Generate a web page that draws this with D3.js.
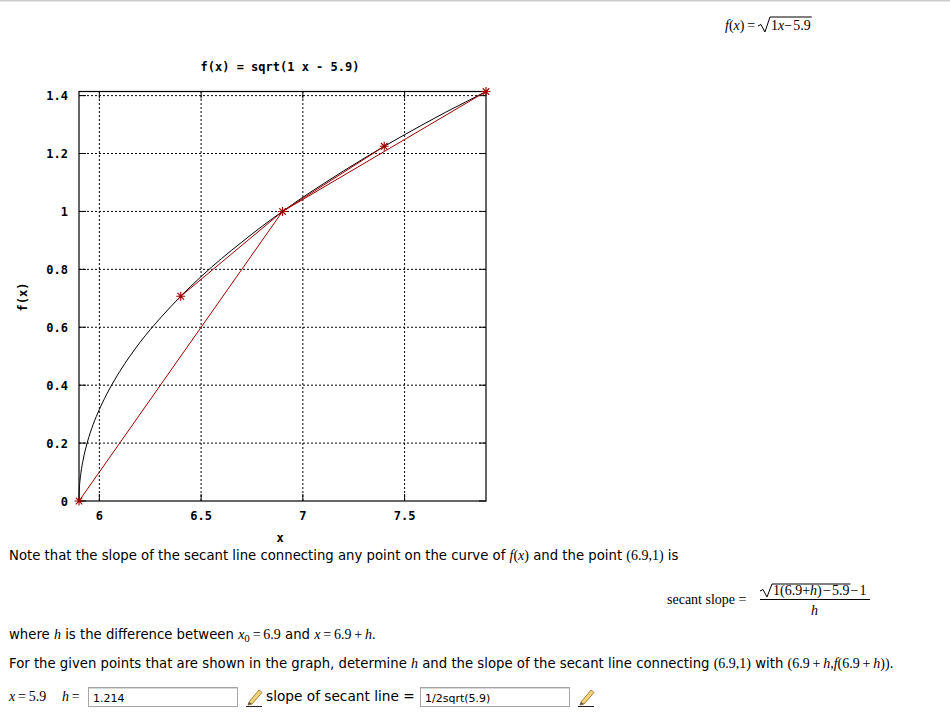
<!DOCTYPE html>
<html>
<head>
<meta charset="utf-8">
<script src="https://cdn.jsdelivr.net/npm/d3@7"></script>
<style>
  body { margin: 0; background: #fff; }
  svg text { white-space: pre; }
</style>
</head>
<body>
<svg id="page" width="950" height="714"></svg>
<script>

  // chart values
  var xTicks = [6, 6.5, 7, 7.5];
  var yTicks = [0, 0.2, 0.4, 0.6, 0.8, 1, 1.2, 1.4];
  var yTickLabels = ['0', '0.2', '0.4', '0.6', '0.8', '1', '1.2', '1.4'];
  var xTickLabels = ['6', '6.5', '7', '7.5'];
  var pointX = [5.9, 6.4, 6.9, 7.4, 7.9];
  var pointY = [0, 0.707, 1, 1.225, 1.414];
  var baseX = 6.9, baseY = 1;
  var curveX = [5.9, 5.901, 5.905, 5.91, 5.92, 5.94, 5.97, 6.0, 6.05, 6.1, 6.2, 6.3, 6.4, 6.5,
                6.6, 6.7, 6.8, 6.9, 7.0, 7.1, 7.2, 7.3, 7.4, 7.5, 7.6, 7.7, 7.8, 7.9];
  var curveY = [0, 0.032, 0.071, 0.1, 0.141, 0.2, 0.265, 0.316, 0.387, 0.447, 0.548, 0.632, 0.707, 0.775,
                0.837, 0.894, 0.949, 1, 1.049, 1.095, 1.14, 1.183, 1.225, 1.265, 1.304, 1.342, 1.378, 1.414];

  var mono = '"DejaVu Sans Mono", monospace';
  var sans = '"DejaVu Sans", Verdana, sans-serif';
  var serif = '"Liberation Serif", "Times New Roman", serif';
  var red = '#a00000';

  var svg = d3.select('#page');

  // thin grey rule at the very top
  svg.append('line')
    .attr('x1', 0).attr('x2', 950).attr('y1', 0.5).attr('y2', 0.5)
    .attr('stroke', '#cccccc').attr('stroke-width', 2);

  var x = d3.scaleLinear().domain([5.9, 7.9]).range([79, 486]);
  var y = d3.scaleLinear().domain([0, Math.SQRT2]).range([501, 91.5]);

  var plot = svg.append('g');

  // grid
  plot.selectAll('line.gx').data(xTicks).enter()
    .append('line')
      .attr('x1', function (d) { return x(d); })
      .attr('x2', function (d) { return x(d); })
      .attr('y1', y.range()[0]).attr('y2', y.range()[1])
      .attr('stroke', '#000').attr('stroke-dasharray', '2,2');

  plot.selectAll('line.gy').data(yTicks.slice(1)).enter()
    .append('line')
      .attr('x1', x.range()[0]).attr('x2', x.range()[1])
      .attr('y1', function (d) { return y(d); })
      .attr('y2', function (d) { return y(d); })
      .attr('stroke', '#000').attr('stroke-dasharray', '2,2');

  // tick marks, mirrored on all four sides
  var tl = 7;
  yTicks.forEach(function (d) {
    plot.append('line').attr('x1', x.range()[0]).attr('x2', x.range()[0] + tl)
      .attr('y1', y(d)).attr('y2', y(d)).attr('stroke', '#000');
    plot.append('line').attr('x1', x.range()[1]).attr('x2', x.range()[1] - tl)
      .attr('y1', y(d)).attr('y2', y(d)).attr('stroke', '#000');
  });
  xTicks.forEach(function (d) {
    plot.append('line').attr('x1', x(d)).attr('x2', x(d))
      .attr('y1', y.range()[0]).attr('y2', y.range()[0] - tl).attr('stroke', '#000');
    plot.append('line').attr('x1', x(d)).attr('x2', x(d))
      .attr('y1', y.range()[1]).attr('y2', y.range()[1] + tl).attr('stroke', '#000');
  });

  // frame
  plot.append('rect')
    .attr('x', x.range()[0]).attr('y', y.range()[1])
    .attr('width', x.range()[1] - x.range()[0])
    .attr('height', y.range()[0] - y.range()[1])
    .attr('fill', 'none').attr('stroke', '#000').attr('stroke-width', 1.2);

  // tick labels
  plot.selectAll('text.yl').data(yTicks).enter()
    .append('text')
      .attr('x', 68).attr('y', function (d) { return y(d) + 4.5; })
      .attr('text-anchor', 'end')
      .style('font', 'bold 12px ' + mono)
      .text(function (d, i) { return yTickLabels[i]; });

  plot.selectAll('text.xl').data(xTicks).enter()
    .append('text')
      .attr('x', function (d) { return x(d); }).attr('y', 519.5)
      .attr('text-anchor', 'middle')
      .style('font', 'bold 12px ' + mono)
      .text(function (d, i) { return xTickLabels[i]; });

  plot.append('text').attr('x', 280).attr('y', 70.5).attr('text-anchor', 'middle')
    .style('font', 'bold 12px ' + mono).text('f(x) = sqrt(1 x - 5.9)');
  plot.append('text').attr('x', 280).attr('y', 541.5).attr('text-anchor', 'middle')
    .style('font', 'bold 12px ' + mono).text('x');
  plot.append('text').attr('transform', 'translate(27,297) rotate(-90)').attr('text-anchor', 'middle')
    .style('font', 'bold 12px ' + mono).text('f(x)');

  // curve
  var curve = curveX.map(function (d, i) { return [d, curveY[i]]; });
  plot.append('path')
    .datum(curve)
    .attr('fill', 'none').attr('stroke', '#000').attr('stroke-width', 1)
    .attr('d', d3.line()
      .x(function (d) { return x(d[0]); })
      .y(function (d) { return y(d[1]); })
      .curve(d3.curveMonotoneX));

  // secant lines from the base point
  var points = pointX.map(function (d, i) { return [d, pointY[i]]; });
  plot.selectAll('line.sec').data(points.filter(function (d) { return d[0] !== baseX; })).enter()
    .append('line')
      .attr('x1', x(baseX)).attr('y1', y(baseY))
      .attr('x2', function (d) { return x(d[0]); })
      .attr('y2', function (d) { return y(d[1]); })
      .attr('stroke', red).attr('stroke-width', 1);

  // star markers
  var s = 4.5, t = 3.3;
  plot.selectAll('path.pt').data(points).enter()
    .append('path')
      .attr('transform', function (d) { return 'translate(' + x(d[0]) + ',' + y(d[1]) + ')'; })
      .attr('d', 'M' + -s + ',0H' + s + 'M0,' + -s + 'V' + s +
                 'M' + -t + ',' + -t + 'L' + t + ',' + t + 'M' + -t + ',' + t + 'L' + t + ',' + -t)
      .attr('stroke', red).attr('stroke-width', 1.1).attr('fill', 'none');

  // text helpers
  function run(g, x0, y0, parts, size) {
    var t = g.append('text').attr('x', x0).attr('y', y0);
    parts.forEach(function (p) {
      var sp = t.append('tspan').text(p[0]);
      if (p[1] === 'm') sp.style('font', '14px ' + serif);
      else if (p[1] === 'mi') sp.style('font', 'italic 14px ' + serif);
      else if (p[1] === 'sub') sp.style('font', '11px ' + serif).attr('dy', 3);
      else if (p[1] === 'unsub') sp.style('font', '14px ' + serif).attr('dy', -3);
      else sp.style('font', size + 'px ' + sans);
    });
    return x0 + t.node().getComputedTextLength();
  }

  function radical(g, x0, x1, top, base) {
    g.append('path')
      .attr('d', 'M' + (x0) + ',' + (base - 5) + 'L' + (x0 + 3) + ',' + (base - 6.5) +
                 'L' + (x0 + 7) + ',' + (base + 1) + 'L' + (x0 + 12) + ',' + top + 'H' + x1)
      .attr('fill', 'none').attr('stroke', '#000').attr('stroke-width', 1);
  }

  var text = svg.append('g').attr('fill', '#000');

  // top-right formula
  var e = run(text, 725, 30, [['f', 'mi'], ['(', 'm'], ['x', 'mi'], [')\u2009=\u2009', 'm']], 12);
  var e2 = run(text, e + 13, 30, [['1', 'm'], ['x', 'mi'], ['\u2212\u200a5.9', 'm']], 12);
  radical(text, e, e2 + 1, 17, 31);

  run(text, 9, 560, [
    ['Note that the slope of the secant line connecting any point on the curve of '],
    ['f', 'mi'], ['(', 'm'], ['x', 'mi'], [')', 'm'],
    [' and the point '], ['(6.9,1)', 'm'], [' is']
  ], 13.25);

  // secant slope fraction
  run(text, 667, 604, [['secant slope =', 'm']], 12);
  var ne = run(text, 773, 595, [['1(6.9+', 'm'], ['h', 'mi'], [')\u200a\u2212\u200a5.9', 'm']], 12);
  radical(text, 760, ne + 1, 584, 596);
  run(text, ne + 1, 595, [['\u2212\u200a1', 'm']], 12);
  text.append('line').attr('x1', 760).attr('x2', 870).attr('y1', 599.5).attr('y2', 599.5)
    .attr('stroke', '#000');
  run(text, 811, 615, [['h', 'mi']], 12);

  run(text, 9, 639, [
    ['where '], ['h', 'mi'], [' is the difference between '],
    ['x', 'mi'], ['0', 'sub'], ['\u2009=\u20096.9', 'unsub'], [' and '],
    ['x', 'mi'], ['\u2009=\u20096.9\u2009+\u2009', 'm'], ['h', 'mi'], ['.', 'm']
  ], 13.25);

  run(text, 9, 668, [
    ['For the given points that are shown in the graph, determine '], ['h', 'mi'],
    [' and the slope of the secant line connecting '], ['(6.9,1)', 'm'], [' with '],
    ['(6.9\u2009+\u2009', 'm'], ['h', 'mi'], [',', 'm'], ['f', 'mi'], ['(6.9\u2009+\u2009', 'm'],
    ['h', 'mi'], ['))', 'm'], ['.']
  ], 13.25);

  // answer row
  run(text, 9, 701, [['x', 'mi'], ['\u2009=\u20095.9', 'm']], 12);
  run(text, 62, 701, [['h', 'mi'], ['\u2009=', 'm']], 12);
  run(text, 266, 701, [['slope of secant line =']], 13.7);

  function inputBox(x0, w, value) {
    svg.append('rect').attr('x', x0 + 0.5).attr('y', 687.5).attr('width', w).attr('height', 19)
      .attr('fill', '#fff').attr('stroke', '#a5a5a5');
    svg.append('line').attr('x1', x0 + 1).attr('x2', x0 + w).attr('y1', 688.5).attr('y2', 688.5)
      .attr('stroke', '#d8d8d8');
    svg.append('text').attr('x', x0 + 5).attr('y', 701.5)
      .style('font', '11px ' + sans).text(value);
  }
  inputBox(88, 149, '1.214');
  inputBox(420, 149, '1/2sqrt(5.9)');

  function pencil(x0) {
    var g = svg.append('g').attr('transform', 'translate(' + x0 + ',688)');
    g.append('path').attr('d', 'M3,14 L13,2 L16,4.5 L6,16 L2,17 Z')
      .attr('fill', '#f3d27a').attr('stroke', '#9a7a2a').attr('stroke-width', 0.9);
    g.append('path').attr('d', 'M2,17 L3,14 L6,16 Z').attr('fill', '#555');
    g.append('line').attr('x1', 0).attr('x2', 16).attr('y1', 18.5).attr('y2', 18.5)
      .attr('stroke', '#222').attr('stroke-width', 1);
  }
  pencil(246);
  pencil(578);

</script>
</body>
</html>
